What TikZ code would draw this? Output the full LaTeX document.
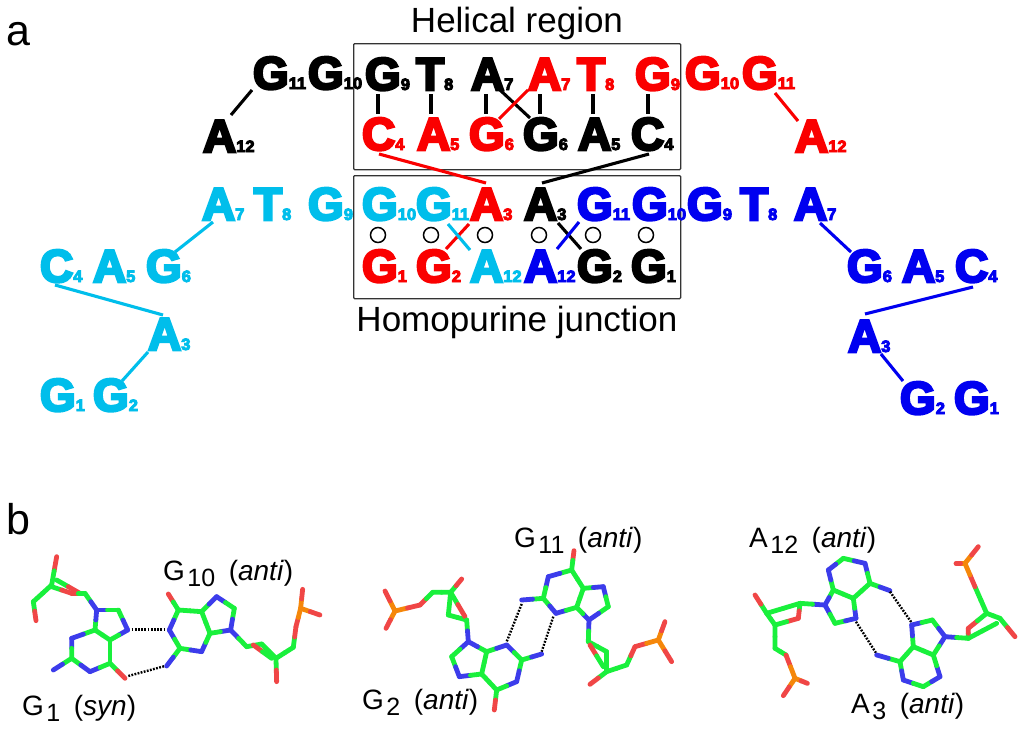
\documentclass[tikz,border=0pt]{standalone}
\usepackage{fontspec}
\setmainfont{Liberation Sans}
\newfontfamily\ntfont[BoldFeatures={FakeBold=5.5}]{Liberation Sans}
\usetikzlibrary{calc}
\definecolor{cy}{RGB}{0,190,235}
\definecolor{bu}{RGB}{0,0,240}
\definecolor{rd}{RGB}{250,0,0}
\definecolor{gr}{RGB}{25,240,60}
\definecolor{nb}{RGB}{60,60,235}
\definecolor{ox}{RGB}{240,70,70}
\definecolor{ph}{RGB}{245,135,10}
\newcommand\sbs[1]{{\fontsize{16.5}{16.5}\selectfont #1}}
\newcommand\lsb[1]{\kern2.5pt\raisebox{-6pt}{\fontsize{25}{25}\selectfont #1}\kern13.5pt}
\newcommand\cn[5]{\draw[conn,#1] ([shift={(#3)}]#2.base west) -- ([shift={(#5)}]#4.base west);}
\newcommand\stk[4]{\draw[stick,draw=#3] (#1) -- ($(#1)!.5!(#2)$); \draw[stick,draw=#4] (#2) -- ($(#1)!.5!(#2)$);}
\newcommand\hb[2]{\draw[hbond] (#1) -- (#2);}
\tikzset{
 nt/.style={anchor=base west,inner sep=0pt,outer sep=0pt,font=\ntfont\bfseries\fontsize{46}{46}\selectfont},
 conn/.style={line width=3.1pt},
 pairmark/.style={circle,draw=black,line width=1.5pt,minimum size=15pt,inner sep=0pt},
 regionbox/.style={draw=black!80,line width=1.3pt,rounded corners=1pt,inner sep=0pt,anchor=north west},
 title/.style={anchor=base,inner sep=0pt,font=\fontsize{35}{35}\selectfont},
 panel/.style={anchor=base west,inner sep=0pt,font=\fontsize{43}{43}\selectfont},
 mol/.style={anchor=base west,inner sep=0pt,font=\fontsize{28}{28}\selectfont},
 stick/.style={line width=4.8pt,line cap=round},
 hbond/.style={line width=2.4pt,black,dash pattern=on 1.8pt off 1.4pt},
}
\begin{document}
\begin{tikzpicture}[x=1pt,y=-1pt]
\useasboundingbox (0,0) rectangle (1024,729);
\fill[white] (0,0) rectangle (1024,729);
\node[panel] (pa) at (6,45) {a};
\node[panel] (pb) at (6,534) {b};
\node[title] (th) at (517,32) {Helical region};
\node[title] (tj) at (517,331) {Homopurine junction};
\node[regionbox,minimum width=327pt,minimum height=126pt] (hbox) at (353,43) {};
\node[regionbox,minimum width=327pt,minimum height=123pt] (jbox) at (353,175) {};
% row 1
\node[nt,text=black] (ka12) at (203,152) {A\sbs{12}};
\node[nt,text=black] (kg11) at (253,89) {G\sbs{11}};
\node[nt,text=black] (kg10) at (308,89) {G\sbs{10}};
\node[nt,text=black] (kg9) at (365,90) {G\sbs{9}};
\node[nt,text=black] (kt8) at (416,90) {T\sbs{8}};
\node[nt,text=black] (ka7) at (471,90) {A\sbs{7}};
\node[nt,text=rd] (ra7) at (528,90) {A\sbs{7}};
\node[nt,text=rd] (rt8) at (577,90) {T\sbs{8}};
\node[nt,text=rd] (rg9) at (635,90) {G\sbs{9}};
\node[nt,text=rd] (rg10) at (685,89) {G\sbs{10}};
\node[nt,text=rd] (rg11) at (742,89) {G\sbs{11}};
\node[nt,text=rd] (ra12) at (795,152) {A\sbs{12}};
% row 2
\node[nt,text=rd] (rc4) at (362,150) {C\sbs{4}};
\node[nt,text=rd] (ra5) at (417,150) {A\sbs{5}};
\node[nt,text=rd] (rg6) at (469,150) {G\sbs{6}};
\node[nt,text=black] (kg6) at (523,150) {G\sbs{6}};
\node[nt,text=black] (ka5) at (578,150) {A\sbs{5}};
\node[nt,text=black] (kc4) at (631,150) {C\sbs{4}};
% row 3
\node[nt,text=cy] (ca7) at (202,220) {A\sbs{7}};
\node[nt,text=cy] (ct8) at (254,220) {T\sbs{8}};
\node[nt,text=cy] (cg9) at (308,220) {G\sbs{9}};
\node[nt,text=cy] (cg10) at (362,220) {G\sbs{10}};
\node[nt,text=cy] (cg11) at (416,220) {G\sbs{11}};
\node[nt,text=rd] (ra3) at (470,220) {A\sbs{3}};
\node[nt,text=black] (ka3) at (524,220) {A\sbs{3}};
\node[nt,text=bu] (bg11) at (577,220) {G\sbs{11}};
\node[nt,text=bu] (bg10) at (632,220) {G\sbs{10}};
\node[nt,text=bu] (bg9) at (687,220) {G\sbs{9}};
\node[nt,text=bu] (bt8) at (740,220) {T\sbs{8}};
\node[nt,text=bu] (ba7) at (794,220) {A\sbs{7}};
% row 4
\node[nt,text=cy] (cc4) at (40,282) {C\sbs{4}};
\node[nt,text=cy] (ca5) at (93,282) {A\sbs{5}};
\node[nt,text=cy] (cg6) at (146,282) {G\sbs{6}};
\node[nt,text=rd] (rg1) at (362,282) {G\sbs{1}};
\node[nt,text=rd] (rg2) at (416,282) {G\sbs{2}};
\node[nt,text=cy] (ca12) at (470,282) {A\sbs{12}};
\node[nt,text=bu] (ba12) at (524,282) {A\sbs{12}};
\node[nt,text=black] (kg2) at (577,282) {G\sbs{2}};
\node[nt,text=black] (kg1) at (631,282) {G\sbs{1}};
\node[nt,text=bu] (bg6) at (847,282) {G\sbs{6}};
\node[nt,text=bu] (ba5) at (902,282) {A\sbs{5}};
\node[nt,text=bu] (bc4) at (955,282) {C\sbs{4}};
% lower
\node[nt,text=cy] (ca3) at (148,350) {A\sbs{3}};
\node[nt,text=cy] (cg1) at (40,411) {G\sbs{1}};
\node[nt,text=cy] (cg2) at (93,411) {G\sbs{2}};
\node[nt,text=bu] (ba3) at (848,352) {A\sbs{3}};
\node[nt,text=bu] (bg2) at (900,414) {G\sbs{2}};
\node[nt,text=bu] (bg1) at (954,414) {G\sbs{1}};
% pair marks
\node[pairmark] (m1) at (378,235) {};
\node[pairmark] (m2) at (431,235) {};
\node[pairmark] (m3) at (485,235) {};
\node[pairmark] (m4) at (539,235) {};
\node[pairmark] (m5) at (593,235) {};
\node[pairmark] (m6) at (646,235) {};
% connectors
\cn{black}{kg9}{13,4}{rc4}{16,-36}
\cn{black}{kt8}{15,4}{ra5}{14,-36}
\cn{black}{ka7}{15,4}{rg6}{17,-36}
\cn{black}{ra7}{12,4}{kg6}{17,-36}
\cn{black}{rt8}{16,4}{ka5}{15,-36}
\cn{black}{rg9}{13,4}{kc4}{17,-36}
\cn{black}{ka7}{29,0}{kg6}{7,-32}
\cn{rd}{ra7}{0,0}{rg6}{30,-31}
\cn{rd}{rc4}{17,4}{ra3}{16,-37}
\cn{black}{kc4}{18,4}{ka3}{18,-37}
\cn{rd}{ra3}{-1,4}{rg2}{30,-33}
\cn{cy}{cg11}{32,4}{ca12}{0,-32}
\cn{black}{ka3}{34,3}{kg2}{4,-33}
\cn{bu}{bg11}{2,2}{ba12}{33,-33}
\cn{black}{ka12}{28,-37}{kg11}{-1,1}
\cn{rd}{rg11}{33,4}{ra12}{3,-31}
\cn{cy}{ca7}{11,2}{cg6}{29,-30}
\cn{bu}{ba7}{26,3}{bg6}{4,-30}
\cn{cy}{cc4}{15,3}{ca3}{15,-35}
\cn{bu}{bc4}{18,5}{ba3}{17,-38}
\cn{cy}{ca3}{0,2}{cg2}{29,-30}
\cn{bu}{ba3}{33,2}{bg2}{3,-33}
% molecule labels
\node[mol] (lg10) at (163,580) {G\lsb{10}(\textit{anti})};
\node[mol] (lg1) at (22,715) {G\lsb{1}(\textit{syn})};
\node[mol] (lg11) at (514,547) {G\lsb{11}(\textit{anti})};
\node[mol] (lg2) at (362,709) {G\lsb{2}(\textit{anti})};
\node[mol] (la12) at (749,547) {A\lsb{12}(\textit{anti})};
\node[mol] (la3) at (851,713) {A\lsb{3}(\textit{anti})};
% molecule G1 / G10
\begin{scope}[shift={(0,530)},x=.3333pt,y=-.3333pt]
\stk{170,80}{155,165}{ox}{gr}
\stk{155,165}{100,215}{gr}{gr}
\stk{100,215}{108,272}{gr}{ox}
\stk{170,150}{240,190}{gr}{ox}
\stk{155,170}{215,190}{gr}{ox}
\stk{215,190}{255,190}{ox}{gr}
\stk{255,190}{290,240}{gr}{nb}
\stk{290,240}{355,240}{nb}{gr}
\stk{355,240}{383,300}{gr}{nb}
\stk{383,300}{330,330}{nb}{gr}
\stk{330,330}{285,300}{gr}{gr}
\stk{285,300}{290,240}{gr}{nb}
\stk{285,300}{215,325}{gr}{nb}
\stk{215,325}{215,385}{nb}{gr}
\stk{215,385}{270,425}{gr}{nb}
\stk{270,425}{330,400}{nb}{gr}
\stk{330,400}{330,330}{gr}{gr}
\stk{330,400}{375,445}{gr}{ox}
\stk{215,385}{160,420}{gr}{nb}
\hb{395,298}{500,298}
\hb{385,438}{495,408}
\stk{505,192}{535,240}{ox}{gr}
\stk{535,240}{605,245}{gr}{gr}
\stk{535,240}{508,300}{gr}{nb}
\stk{508,300}{540,355}{nb}{gr}
\stk{540,355}{605,365}{gr}{nb}
\stk{605,365}{630,310}{nb}{gr}
\stk{630,310}{605,245}{gr}{gr}
\stk{605,245}{650,200}{gr}{nb}
\stk{650,200}{703,235}{nb}{gr}
\stk{703,235}{692,300}{gr}{nb}
\stk{692,300}{630,310}{nb}{gr}
\stk{540,355}{500,408}{gr}{nb}
\stk{692,300}{740,350}{nb}{gr}
\stk{740,350}{785,342}{gr}{gr}
\stk{785,342}{828,385}{gr}{gr}
\stk{760,345}{815,385}{ox}{gr}
\stk{828,385}{880,352}{gr}{gr}
\stk{880,352}{888,290}{gr}{ox}
\stk{888,290}{902,235}{ox}{ph}
\stk{902,235}{908,178}{ph}{ox}
\stk{902,235}{960,255}{ph}{ox}
\stk{828,385}{830,455}{gr}{ox}
\end{scope}
% molecule G2 / G11
\begin{scope}[shift={(370,530)},x=.3333pt,y=-.3333pt]
\stk{75,243}{45,183}{ph}{ox}
\stk{75,243}{48,295}{ph}{ox}
\stk{75,243}{150,225}{ph}{ox}
\stk{150,225}{188,187}{ox}{gr}
\stk{188,187}{242,187}{gr}{gr}
\stk{242,187}{275,147}{gr}{ox}
\stk{235,255}{290,270}{gr}{gr}
\stk{242,187}{235,255}{gr}{gr}
\stk{242,187}{285,260}{gr}{ox}
\stk{290,270}{295,335}{gr}{nb}
\stk{295,335}{245,380}{nb}{gr}
\stk{245,380}{268,440}{gr}{nb}
\stk{268,440}{335,432}{nb}{gr}
\stk{335,432}{350,365}{gr}{gr}
\stk{350,365}{295,335}{gr}{nb}
\stk{350,365}{410,345}{gr}{nb}
\stk{410,345}{455,390}{nb}{gr}
\stk{455,390}{440,455}{gr}{nb}
\stk{440,455}{380,480}{nb}{gr}
\stk{380,480}{335,432}{gr}{gr}
\stk{380,480}{373,540}{gr}{ox}
\stk{455,390}{515,372}{gr}{nb}
\hb{455,222}{410,335}
\hb{550,260}{515,365}
\stk{612,62}{605,120}{ox}{gr}
\stk{605,120}{535,140}{gr}{nb}
\stk{535,140}{520,205}{nb}{gr}
\stk{520,205}{455,210}{gr}{nb}
\stk{520,205}{558,250}{gr}{nb}
\stk{558,250}{620,232}{nb}{gr}
\stk{620,232}{640,175}{gr}{gr}
\stk{640,175}{605,120}{gr}{gr}
\stk{640,175}{700,170}{gr}{nb}
\stk{700,170}{715,230}{nb}{gr}
\stk{715,230}{657,270}{gr}{nb}
\stk{657,270}{620,232}{nb}{gr}
\stk{657,270}{655,335}{nb}{gr}
\stk{655,335}{710,365}{gr}{gr}
\stk{710,365}{710,425}{gr}{gr}
\stk{660,345}{700,410}{ox}{gr}
\stk{710,425}{660,463}{gr}{ox}
\stk{710,425}{770,405}{gr}{gr}
\stk{770,405}{795,350}{gr}{ox}
\stk{795,350}{865,330}{ox}{ph}
\stk{865,330}{885,275}{ph}{ox}
\stk{865,330}{905,395}{ph}{ox}
\end{scope}
% molecule A12 / A3
\begin{scope}[shift={(730,530)},x=.3333pt,y=-.3333pt]
\stk{340,85}{295,120}{gr}{nb}
\stk{340,85}{405,100}{gr}{nb}
\stk{405,100}{420,160}{nb}{gr}
\stk{420,160}{370,205}{gr}{gr}
\stk{370,205}{310,180}{gr}{gr}
\stk{310,180}{295,120}{gr}{nb}
\stk{310,180}{285,225}{gr}{nb}
\stk{285,225}{315,280}{nb}{gr}
\stk{315,280}{378,265}{gr}{nb}
\stk{378,265}{370,205}{nb}{gr}
\stk{420,160}{480,182}{gr}{nb}
\stk{285,225}{210,220}{nb}{gr}
\stk{210,220}{110,250}{gr}{gr}
\stk{210,220}{205,265}{gr}{ox}
\stk{205,265}{135,285}{ox}{gr}
\stk{110,250}{135,285}{gr}{gr}
\stk{110,250}{75,195}{gr}{ox}
\stk{135,285}{135,355}{gr}{gr}
\stk{135,355}{168,375}{gr}{gr}
\stk{168,375}{195,445}{ox}{ph}
\stk{195,445}{160,497}{ph}{ox}
\stk{195,445}{232,460}{ph}{ox}
\hb{480,185}{545,278}
\hb{378,275}{440,372}
\stk{545,285}{607,270}{nb}{gr}
\stk{607,270}{645,320}{gr}{nb}
\stk{645,320}{610,375}{nb}{gr}
\stk{610,375}{550,350}{gr}{gr}
\stk{550,350}{545,285}{gr}{nb}
\stk{550,350}{510,395}{gr}{gr}
\stk{510,395}{440,375}{gr}{nb}
\stk{510,395}{520,450}{gr}{nb}
\stk{520,450}{580,470}{nb}{gr}
\stk{580,470}{630,440}{gr}{nb}
\stk{630,440}{610,375}{nb}{gr}
\stk{645,320}{715,325}{nb}{gr}
\stk{715,325}{800,280}{gr}{gr}
\stk{715,325}{715,295}{gr}{ox}
\stk{715,295}{770,250}{ox}{gr}
\stk{770,250}{810,265}{gr}{gr}
\stk{810,265}{855,320}{gr}{ox}
\stk{770,250}{735,170}{gr}{gr}
\stk{735,170}{705,100}{ox}{ph}
\stk{705,100}{745,50}{ph}{ox}
\stk{705,100}{678,100}{ph}{ox}
\end{scope}
\end{tikzpicture}
\end{document}
